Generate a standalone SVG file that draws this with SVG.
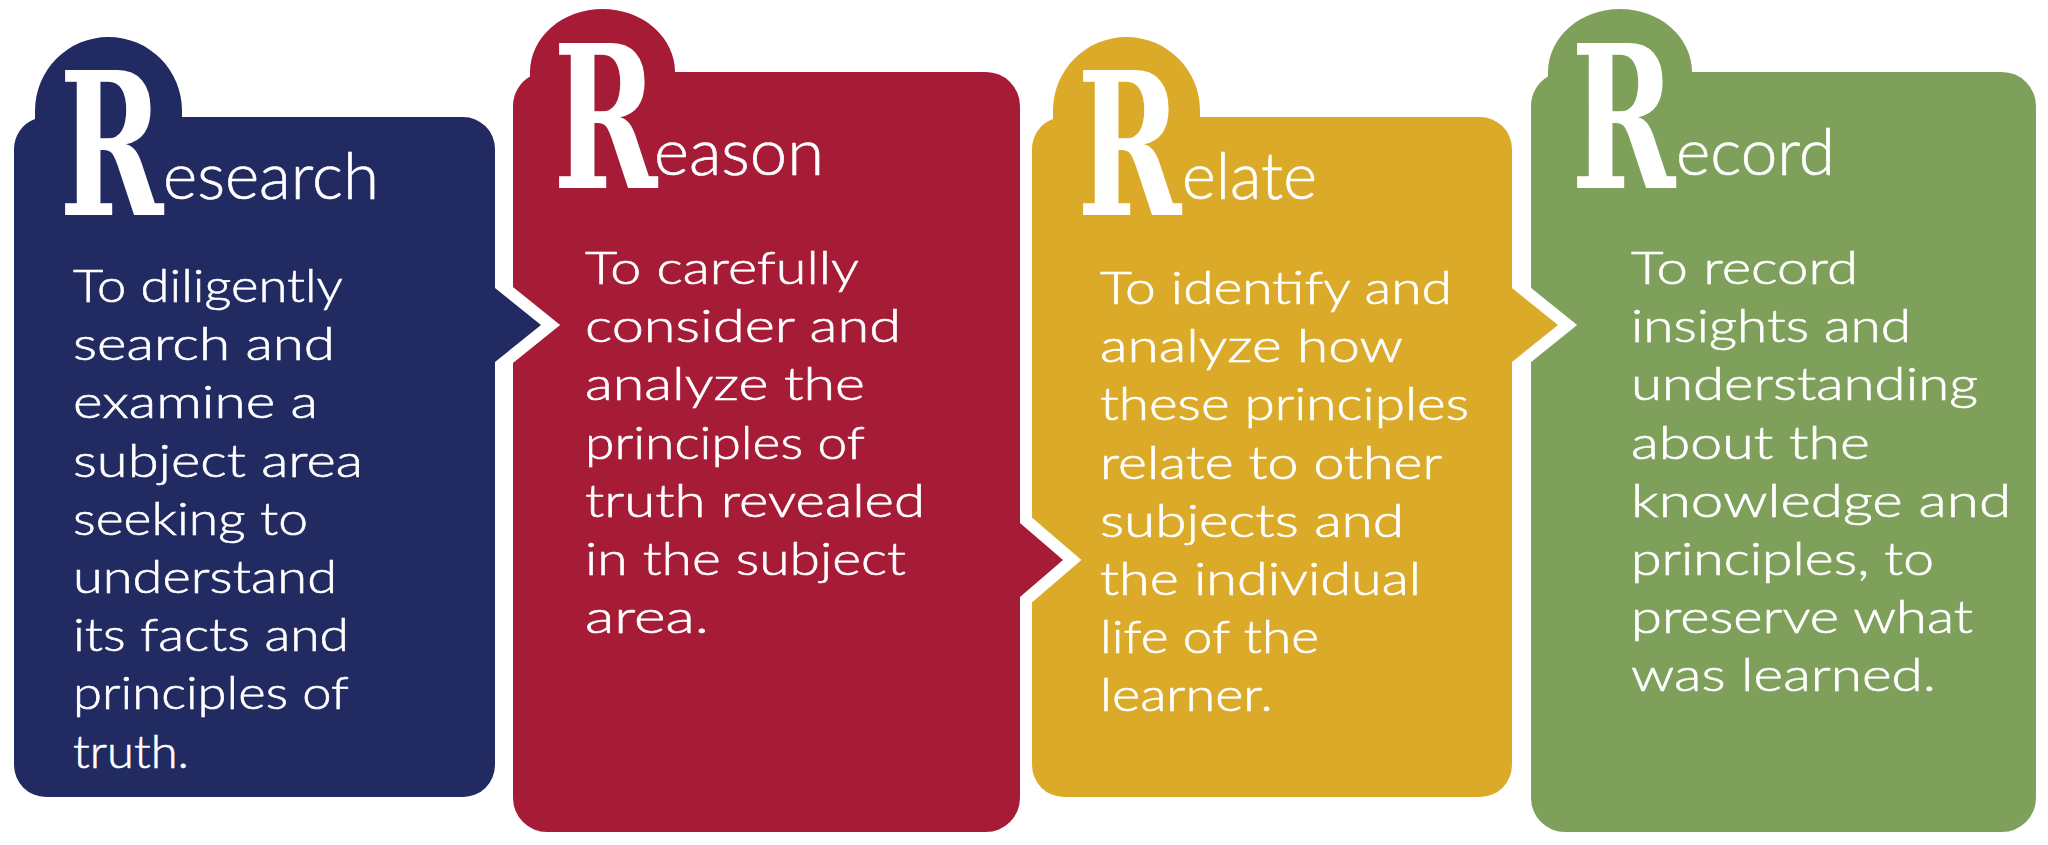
<svg xmlns="http://www.w3.org/2000/svg" width="2048" height="845" viewBox="0 0 2048 845">
<style>
.panel{stroke:#ffffff;stroke-width:24;stroke-linejoin:miter;paint-order:stroke fill}
.cap{font-family:"DejaVu Serif","Liberation Serif",serif;font-weight:bold;font-size:199px;fill:#ffffff}
.head{font-family:Lato,"Liberation Sans",sans-serif;font-weight:300;font-size:66px;fill:#ffffff;stroke:#ffffff;stroke-width:0.6}
.body{font-family:Lato,"Liberation Sans",sans-serif;font-weight:300;font-size:46px;fill:#ffffff;stroke:#ffffff;stroke-width:0.6}
</style>
<rect width="2048" height="845" fill="#ffffff"/>
<g id="record">
<path class="panel" fill="#7FA05B" d="M1531,106 A34,34 0 0 1 1548,76.6 L1548,72 A72,63 0 0 1 1692,72 L2002,72 A34,34 0 0 1 2036,106 L2036,798 A34,34 0 0 1 2002,832 L1565,832 A34,34 0 0 1 1531,798 Z"/>
<text class="cap" transform="translate(1571.2,188) scale(0.63,1)" x="0" y="0">R</text>
<text class="head" x="1676" y="175" textLength="159" lengthAdjust="spacingAndGlyphs">ecord</text>
<text class="body" x="1631" y="284" textLength="227" lengthAdjust="spacingAndGlyphs">To record</text>
<text class="body" x="1631" y="342.2" textLength="280" lengthAdjust="spacingAndGlyphs">insights and</text>
<text class="body" x="1631" y="400.4" textLength="347" lengthAdjust="spacingAndGlyphs">understanding</text>
<text class="body" x="1631" y="458.6" textLength="239" lengthAdjust="spacingAndGlyphs">about the</text>
<text class="body" x="1631" y="516.8" textLength="380" lengthAdjust="spacingAndGlyphs">knowledge and</text>
<text class="body" x="1631" y="575" textLength="303" lengthAdjust="spacingAndGlyphs">principles, to</text>
<text class="body" x="1631" y="633.2" textLength="342" lengthAdjust="spacingAndGlyphs">preserve what</text>
<text class="body" x="1631" y="691.4" textLength="305" lengthAdjust="spacingAndGlyphs">was learned.</text>
</g>
<g id="relate">
<path class="panel" fill="#DAAA28" d="M1032,149 A32,32 0 0 1 1053,118.95 L1053,110.5 A73.5,73.5 0 0 1 1200,110.5 L1200,117 L1480,117 A32,32 0 0 1 1512,149 L1512,288 L1558,325 L1512,362 L1512,765 A32,32 0 0 1 1480,797 L1064,797 A32,32 0 0 1 1032,765 Z"/>
<text class="cap" transform="translate(1077.2,215) scale(0.63,1)" x="0" y="0">R</text>
<text class="head" x="1182" y="199" textLength="135" lengthAdjust="spacingAndGlyphs">elate</text>
<text class="body" x="1100" y="304" textLength="352" lengthAdjust="spacingAndGlyphs">To identify and</text>
<text class="body" x="1100" y="362.2" textLength="303" lengthAdjust="spacingAndGlyphs">analyze how</text>
<text class="body" x="1100" y="420.4" textLength="369" lengthAdjust="spacingAndGlyphs">these principles</text>
<text class="body" x="1100" y="478.6" textLength="342" lengthAdjust="spacingAndGlyphs">relate to other</text>
<text class="body" x="1100" y="536.8" textLength="304" lengthAdjust="spacingAndGlyphs">subjects and</text>
<text class="body" x="1100" y="595" textLength="321" lengthAdjust="spacingAndGlyphs">the individual</text>
<text class="body" x="1100" y="653.2" textLength="219" lengthAdjust="spacingAndGlyphs">life of the</text>
<text class="body" x="1100" y="711.4" textLength="173" lengthAdjust="spacingAndGlyphs">learner.</text>
</g>
<g id="reason">
<path class="panel" fill="#A61C37" d="M513,106 A34,34 0 0 1 530,76.6 L530,72 A72.5,63 0 0 1 675,72 L986,72 A34,34 0 0 1 1020,106 L1020,523 L1063,560 L1020,597 L1020,798 A34,34 0 0 1 986,832 L547,832 A34,34 0 0 1 513,798 Z"/>
<text class="cap" transform="translate(553.2,188) scale(0.63,1)" x="0" y="0">R</text>
<text class="head" x="654" y="175" textLength="170" lengthAdjust="spacingAndGlyphs">eason</text>
<text class="body" x="585" y="284" textLength="274" lengthAdjust="spacingAndGlyphs">To carefully</text>
<text class="body" x="585" y="342.2" textLength="316" lengthAdjust="spacingAndGlyphs">consider and</text>
<text class="body" x="585" y="400.4" textLength="280" lengthAdjust="spacingAndGlyphs">analyze the</text>
<text class="body" x="585" y="458.6" textLength="280" lengthAdjust="spacingAndGlyphs">principles of</text>
<text class="body" x="585" y="516.8" textLength="340" lengthAdjust="spacingAndGlyphs">truth revealed</text>
<text class="body" x="585" y="575" textLength="321" lengthAdjust="spacingAndGlyphs">in the subject</text>
<text class="body" x="585" y="633.2" textLength="124" lengthAdjust="spacingAndGlyphs">area.</text>
</g>
<g id="research">
<path class="panel" fill="#222A62" d="M14,149 A32,32 0 0 1 35,118.95 L35,110.5 A73.5,73.5 0 0 1 182,110.5 L182,117 L463,117 A32,32 0 0 1 495,149 L495,288 L541,325 L495,362 L495,765 A32,32 0 0 1 463,797 L46,797 A32,32 0 0 1 14,765 Z"/>
<text class="cap" transform="translate(59.2,215) scale(0.63,1)" x="0" y="0">R</text>
<text class="head" x="163" y="199" textLength="216" lengthAdjust="spacingAndGlyphs">esearch</text>
<text class="body" x="73" y="302" textLength="270" lengthAdjust="spacingAndGlyphs">To diligently</text>
<text class="body" x="73" y="360.2" textLength="262" lengthAdjust="spacingAndGlyphs">search and</text>
<text class="body" x="73" y="418.4" textLength="245" lengthAdjust="spacingAndGlyphs">examine a</text>
<text class="body" x="73" y="476.6" textLength="290" lengthAdjust="spacingAndGlyphs">subject area</text>
<text class="body" x="73" y="534.8" textLength="235" lengthAdjust="spacingAndGlyphs">seeking to</text>
<text class="body" x="73" y="593" textLength="264" lengthAdjust="spacingAndGlyphs">understand</text>
<text class="body" x="73" y="651.2" textLength="276" lengthAdjust="spacingAndGlyphs">its facts and</text>
<text class="body" x="73" y="709.4" textLength="276" lengthAdjust="spacingAndGlyphs">principles of</text>
<text class="body" x="73" y="767.6" textLength="116" lengthAdjust="spacingAndGlyphs">truth.</text>
</g>
<g id="connectors"></g>
</svg>
